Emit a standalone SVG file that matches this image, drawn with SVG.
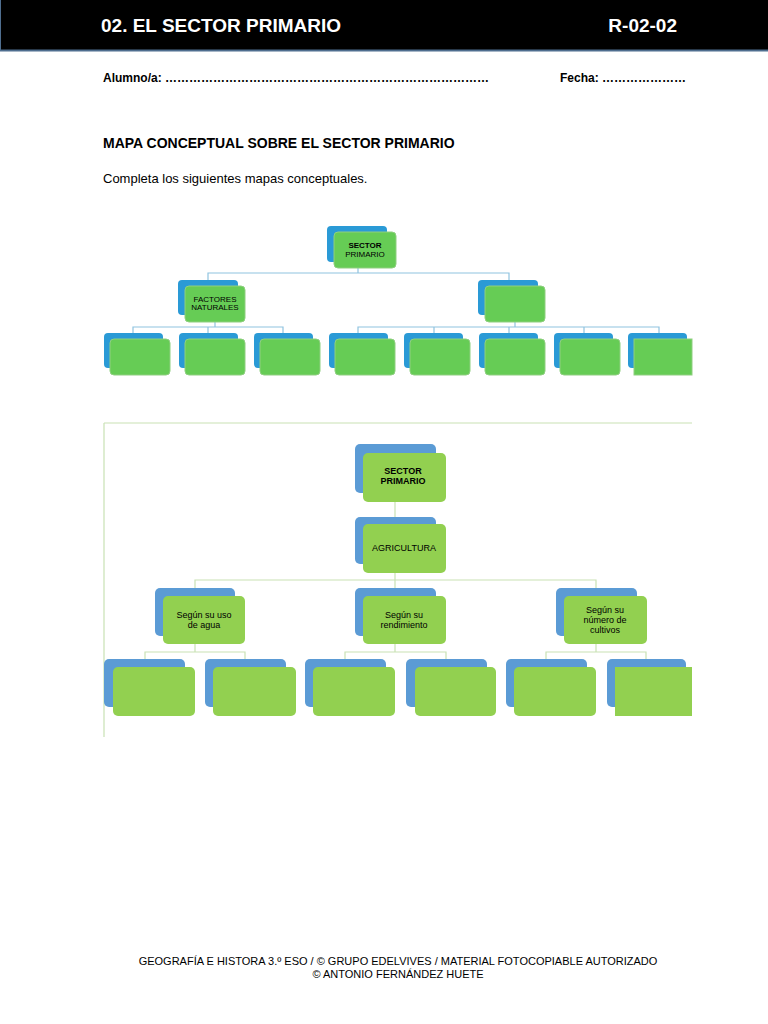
<svg xmlns="http://www.w3.org/2000/svg" width="768" height="1024" viewBox="0 0 768 1024">
<style>
text{font-family:"Liberation Sans",Arial,sans-serif;fill:#000}
.b1{fill:#2a9ad6}.g1{fill:#66cc55;stroke:#8fcf80;stroke-width:1}
.b2{fill:#5b9bd5}.g2{fill:#92d050}
.c1{stroke:#8fc3e0;stroke-width:1.2;fill:none}
.c2{stroke:#c9e2b4;stroke-width:1.2;fill:none}
.t1{font-size:8px;text-anchor:middle}
.t2{font-size:9px;text-anchor:middle}
</style>
<rect width="768" height="1024" fill="#fff"/>
<rect x="0" y="0" width="768" height="50" fill="#000"/>
<line x1="0" y1="50.5" x2="768" y2="50.5" stroke="#4f6e8f" stroke-width="2"/>
<line x1="0.5" y1="0" x2="0.5" y2="51" stroke="#4f6e8f" stroke-width="1"/>
<text x="101" y="32" style="font-size:19px;font-weight:bold;fill:#fff">02. EL SECTOR PRIMARIO</text>
<text x="677" y="32" style="font-size:19px;font-weight:bold;fill:#fff;text-anchor:end">R-02-02</text>
<text x="103" y="82" style="font-size:12px;font-weight:bold">Alumno/a: ………………………………………………………………………</text>
<text x="560" y="82" style="font-size:12px;font-weight:bold">Fecha: …………………</text>
<text x="103" y="148" style="font-size:14px;font-weight:bold">MAPA CONCEPTUAL SOBRE EL SECTOR PRIMARIO</text>
<text x="103" y="183" style="font-size:13px">Completa los siguientes mapas conceptuales.</text>

<g id="connectors">
<path class="c1" d="M358 268V273M208 280V273H509V280M215 322V327M133 333V327H283V333M208 327V333M515 322V327M358 333V327H659V333M434 327V333M509 327V333M584 327V333"/>
<path class="c2" d="M104 423H692M104 423V737M395 502V517M395 573V580M195 588V580H596V588M395 580V588M195 644V652M145 659V652H245V659M395 644V652M345 659V652H446V659M596 644V652M546 659V652H646V659"/>
</g>

<g id="m1-root"><rect class="b1" x="327" y="226" width="60" height="36" rx="4"/><rect class="g1" x="334" y="232" width="62" height="36" rx="4"/><text class="t1" x="365" y="248" font-weight="bold">SECTOR</text><text class="t1" x="365" y="257">PRIMARIO</text></g>
<g id="m1-factores"><rect class="b1" x="178" y="280" width="60" height="35" rx="4"/><rect class="g1" x="185" y="286" width="60" height="36" rx="4"/><text class="t1" x="215" y="302">FACTORES</text><text class="t1" x="215" y="310">NATURALES</text></g>
<g id="m1-right"><rect class="b1" x="478" y="280" width="60" height="35" rx="4"/><rect class="g1" x="485" y="286" width="60" height="36" rx="4"/></g>
<g id="m1-l1"><rect class="b1" x="104" y="333" width="59" height="35" rx="4"/><rect class="g1" x="110" y="339" width="60" height="36" rx="4"/></g>
<g id="m1-l2"><rect class="b1" x="179" y="333" width="59" height="35" rx="4"/><rect class="g1" x="185" y="339" width="60" height="36" rx="4"/></g>
<g id="m1-l3"><rect class="b1" x="254" y="333" width="59" height="35" rx="4"/><rect class="g1" x="260" y="339" width="60" height="36" rx="4"/></g>
<g id="m1-l4"><rect class="b1" x="329" y="333" width="59" height="35" rx="4"/><rect class="g1" x="335" y="339" width="60" height="36" rx="4"/></g>
<g id="m1-l5"><rect class="b1" x="404" y="333" width="59" height="35" rx="4"/><rect class="g1" x="410" y="339" width="60" height="36" rx="4"/></g>
<g id="m1-l6"><rect class="b1" x="479" y="333" width="59" height="35" rx="4"/><rect class="g1" x="485" y="339" width="60" height="36" rx="4"/></g>
<g id="m1-l7"><rect class="b1" x="554" y="333" width="59" height="35" rx="4"/><rect class="g1" x="560" y="339" width="60" height="36" rx="4"/></g>
<g id="m1-l8"><rect class="b1" x="628" y="333" width="59" height="35" rx="4"/><rect class="g1" x="634" y="339" width="58" height="36"/></g>

<g id="m2-root"><rect class="b2" x="355" y="444" width="81" height="49" rx="5"/><rect class="g2" x="363" y="453" width="83" height="49" rx="5"/><text class="t2" x="403" y="474" font-weight="bold">SECTOR</text><text class="t2" x="403" y="484" font-weight="bold">PRIMARIO</text></g>
<g id="m2-agri"><rect class="b2" x="355" y="517" width="81" height="47" rx="5"/><rect class="g2" x="363" y="524" width="83" height="49" rx="5"/><text class="t2" x="404" y="551">AGRICULTURA</text></g>
<g id="m2-a"><rect class="b2" x="155" y="588" width="80" height="48" rx="5"/><rect class="g2" x="163" y="596" width="82" height="48" rx="5"/><text class="t2" x="204" y="618">Según su uso</text><text class="t2" x="204" y="628">de agua</text></g>
<g id="m2-b"><rect class="b2" x="355" y="588" width="81" height="48" rx="5"/><rect class="g2" x="363" y="596" width="83" height="48" rx="5"/><text class="t2" x="404" y="618">Según su</text><text class="t2" x="404" y="628">rendimiento</text></g>
<g id="m2-c"><rect class="b2" x="556" y="588" width="81" height="48" rx="5"/><rect class="g2" x="564" y="596" width="83" height="48" rx="5"/><text class="t2" x="605" y="613">Según su</text><text class="t2" x="605" y="623">número de</text><text class="t2" x="605" y="633">cultivos</text></g>
<g id="m2-l1"><rect class="b2" x="104" y="659" width="81" height="48" rx="5"/><rect class="g2" x="113" y="667" width="82" height="49" rx="5"/></g>
<g id="m2-l2"><rect class="b2" x="205" y="659" width="81" height="48" rx="5"/><rect class="g2" x="213" y="667" width="83" height="49" rx="5"/></g>
<g id="m2-l3"><rect class="b2" x="305" y="659" width="81" height="48" rx="5"/><rect class="g2" x="313" y="667" width="82" height="49" rx="5"/></g>
<g id="m2-l4"><rect class="b2" x="406" y="659" width="81" height="48" rx="5"/><rect class="g2" x="415" y="667" width="81" height="49" rx="5"/></g>
<g id="m2-l5"><rect class="b2" x="506" y="659" width="81" height="48" rx="5"/><rect class="g2" x="514" y="667" width="82" height="49" rx="5"/></g>
<g id="m2-l6"><rect class="b2" x="607" y="659" width="79" height="48" rx="5"/><rect class="g2" x="615" y="667" width="77" height="49"/></g>

<text x="398" y="965" style="font-size:11px;text-anchor:middle">GEOGRAFÍA E HISTORA 3.º ESO / © GRUPO EDELVIVES / MATERIAL FOTOCOPIABLE AUTORIZADO</text>
<text x="398" y="978" style="font-size:11px;text-anchor:middle">© ANTONIO FERNÁNDEZ HUETE</text>
</svg>
